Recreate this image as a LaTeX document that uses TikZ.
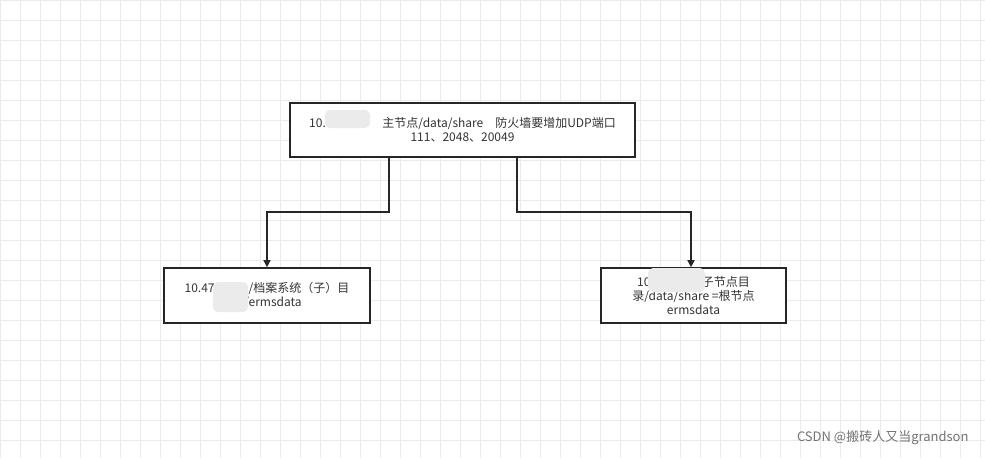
\documentclass[tikz,border=0pt]{standalone}
\usepackage{fontspec}
\setmainfont{Noto Sans CJK SC}
\usetikzlibrary{arrows.meta}
\definecolor{gridc}{HTML}{EBEBEB}
\definecolor{txt}{HTML}{333333}
\tikzset{
  box/.style={draw=black!85, line width=1.6pt, fill=white, text=txt, align=center, font=\fontsize{12}{14}\selectfont, inner sep=0pt},
  conn/.style={draw=black!85, line width=1.4pt, -{Triangle[length=7pt,width=7pt]}},
  blur/.style={fill=black!8, draw=none, rounded corners=5pt}
}
\begin{document}
\begin{tikzpicture}[x=1pt,y=-1pt]
\useasboundingbox (0,0) rectangle (985,458);
\fill[white] (0,0) rectangle (985,458);
\foreach \x in {0,20,...,980} \draw[gridc,line width=0.6pt] (\x,0) -- (\x,458);
\foreach \y in {0,20,...,450} \draw[gridc,line width=0.6pt] (0,\y) -- (985,\y);
\node[box, minimum width=345, minimum height=54] (top) at (462.5,130) {10.4\hspace{50pt}主节点/data/share\quad 防火墙要增加UDP端口\\111、2048、20049};
\node[box, minimum width=206, minimum height=55] (left) at (267,295.5) {10.47\hspace{34pt}/档案系统（子）目\\录/ermsdata};
\node[box, minimum width=185, minimum height=55] (right) at (693.5,295.5) {10.\hspace{48pt}子节点目\\录/data/share =根节点\\ermsdata};
\fill[blur] (325,110) rectangle (370,128);
\fill[blur] (213,282) rectangle (248,312);
\fill[blur] (648,268) rectangle (705,292);
\coordinate (lt) at (389,157);
\coordinate (rt) at (517,157);
\draw[conn] (lt) |- (267,212) -- (left.north -| 267,0);
\draw[conn] (rt) |- (691,212) -- (right.north -| 691,0);
\node[text=black!55, font=\fontsize{13}{15}\selectfont, anchor=east] (wm) at (972,438) {CSDN @搬砖人又当grandson};
\end{tikzpicture}
\end{document}
